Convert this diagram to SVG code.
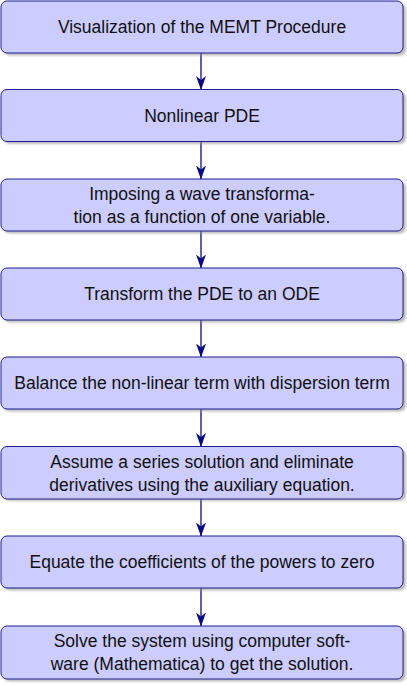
<svg xmlns="http://www.w3.org/2000/svg" width="407" height="685" viewBox="0 0 407 685">
<style>
.box{fill:#ccccff;stroke:#1f1f8f;stroke-width:1}
.sh{fill:#8f8f8f;opacity:0.6}
.t{font-family:"Liberation Sans",Arial,sans-serif;font-size:17.5px;fill:#111;text-anchor:middle}
.ar{stroke:#0a0a80;stroke-width:1.3;fill:none}
</style>
<defs>
<marker id="st" viewBox="0 0 14 10" refX="13.5" refY="5" markerWidth="14" markerHeight="10" markerUnits="userSpaceOnUse" orient="auto">
<path d="M0,0 L14,5 L0,10 L4,5 Z" fill="#0a0a80"/>
</marker>
<filter id="bl" x="-5%" y="-20%" width="110%" height="140%"><feGaussianBlur stdDeviation="0.8"/></filter>
</defs>
<g id="connectors">
<line class="ar" x1="201" y1="53" x2="201" y2="89.5" marker-end="url(#st)"/>
<line class="ar" x1="201" y1="142" x2="201" y2="179" marker-end="url(#st)"/>
<line class="ar" x1="201" y1="231" x2="201" y2="268" marker-end="url(#st)"/>
<line class="ar" x1="201" y1="320" x2="201" y2="357" marker-end="url(#st)"/>
<line class="ar" x1="201" y1="409" x2="201" y2="446.5" marker-end="url(#st)"/>
<line class="ar" x1="201" y1="499" x2="201" y2="536" marker-end="url(#st)"/>
<line class="ar" x1="201" y1="588" x2="201" y2="626" marker-end="url(#st)"/>
</g>
<g id="n1"><rect class="sh" filter="url(#bl)" x="3.5" y="3.5" width="402.5" height="52" rx="6"/><rect class="box" x="1" y="1" width="402" height="52" rx="6"/><text class="t" x="202" y="33">Visualization of the MEMT Procedure</text></g>
<g id="n2"><rect class="sh" filter="url(#bl)" x="3.5" y="92" width="402.5" height="52" rx="6"/><rect class="box" x="1" y="89.5" width="402" height="52" rx="6"/><text class="t" x="202" y="122">Nonlinear PDE</text></g>
<g id="n3"><rect class="sh" filter="url(#bl)" x="3.5" y="181.5" width="402.5" height="52" rx="6"/><rect class="box" x="1" y="179" width="402" height="52" rx="6"/><text class="t" x="202" y="200">Imposing a wave transforma-</text><text class="t" x="202" y="223">tion as a function of one variable.</text></g>
<g id="n4"><rect class="sh" filter="url(#bl)" x="3.5" y="270.5" width="402.5" height="52" rx="6"/><rect class="box" x="1" y="268" width="402" height="52" rx="6"/><text class="t" x="202" y="300">Transform the PDE to an ODE</text></g>
<g id="n5"><rect class="sh" filter="url(#bl)" x="3.5" y="359.5" width="402.5" height="52" rx="6"/><rect class="box" x="1" y="357" width="402" height="52" rx="6"/><text class="t" x="202" y="389">Balance the non-linear term with dispersion term</text></g>
<g id="n6"><rect class="sh" filter="url(#bl)" x="3.5" y="449" width="402.5" height="52" rx="6"/><rect class="box" x="1" y="446.5" width="402" height="52.5" rx="6"/><text class="t" x="202" y="468">Assume a series solution and eliminate</text><text class="t" x="202" y="491">derivatives using the auxiliary equation.</text></g>
<g id="n7"><rect class="sh" filter="url(#bl)" x="3.5" y="538.5" width="402.5" height="52" rx="6"/><rect class="box" x="1" y="536" width="402" height="52" rx="6"/><text class="t" x="202" y="568">Equate the coefficients of the powers to zero</text></g>
<g id="n8"><rect class="sh" filter="url(#bl)" x="3.5" y="628.5" width="402.5" height="53" rx="6"/><rect class="box" x="1" y="626" width="402" height="53" rx="6"/><text class="t" x="202" y="647">Solve the system using computer soft-</text><text class="t" x="202" y="670">ware (Mathematica) to get the solution.</text></g>
</svg>
